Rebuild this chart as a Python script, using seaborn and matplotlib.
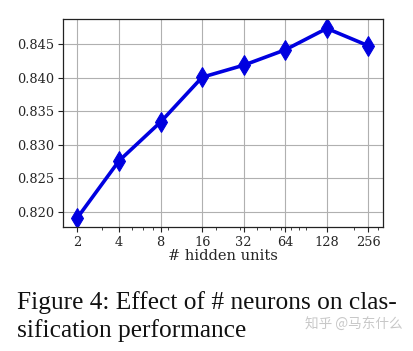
import matplotlib
matplotlib.use("Agg")
import matplotlib.pyplot as plt
import matplotlib.ticker as mticker
import seaborn as sns
import pandas as pd

hidden_units = [2, 4, 8, 16, 32, 64, 128, 256]
performance = [0.8191, 0.8276, 0.8334, 0.8401, 0.8419, 0.8442, 0.8474, 0.8448]
tick_labels = ["2", "4", "8", "16", "32", "64", "128", "256"]
ytick_values = [0.820, 0.825, 0.830, 0.835, 0.840, 0.845]
xlabel = "# hidden units"
caption_lines = ["Figure 4: Effect of # neurons on clas-", "sification performance"]
watermark = "知乎 @马东什么"

sns.set_style("ticks")
plt.rcParams["font.family"] = ["DejaVu Serif"]

df = pd.DataFrame({"units": hidden_units, "perf": performance})

fig = plt.figure(figsize=(4.14, 3.51), dpi=100)
ax = fig.add_axes([0.152, 0.353, 0.773, 0.593])
sns.lineplot(data=df, x="units", y="perf", ax=ax, color="#0000e0", lw=2.6,
             marker="d", markersize=10, markeredgecolor="#0000e0")
ax.set_xscale("log")
ax.xaxis.set_major_locator(mticker.FixedLocator(hidden_units))
ax.xaxis.set_major_formatter(mticker.FixedFormatter(tick_labels))
ax.xaxis.set_minor_locator(mticker.LogLocator(subs="auto"))
ax.xaxis.set_minor_formatter(mticker.NullFormatter())
ax.set_yticks(ytick_values)
ax.yaxis.set_major_formatter(mticker.FormatStrFormatter("%.3f"))
ax.margins(x=0.05, y=0.05)
ax.grid(True, which="major", color="#b0b0b0", lw=0.8)
ax.tick_params(axis="both", which="major", labelsize=9.3, length=3.5, width=0.8,
               color="#222222", pad=3)
ax.tick_params(axis="x", which="minor", length=2, width=0.6, color="#222222")
for s in ax.spines.values():
    s.set_color("#222222")
    s.set_linewidth(0.9)
ax.set_xlabel(xlabel, fontsize=10.5, labelpad=0)
ax.set_ylabel("")

fig.text(0.041, 1 - 309 / 351, caption_lines[0], family=["Liberation Serif"], fontsize=18.3,
         va="baseline", ha="left", color="#111111")
fig.text(0.041, 1 - 337 / 351, caption_lines[1], family=["Liberation Serif"], fontsize=18.3,
         va="baseline", ha="left", color="#111111")
fig.text(0.737, 1 - 325 / 351, watermark, family=["Noto Sans CJK SC", "DejaVu Sans"],
         fontsize=9.8, color="#c8c8c8", va="center", ha="left")

fig.savefig("out.png", dpi=100)
